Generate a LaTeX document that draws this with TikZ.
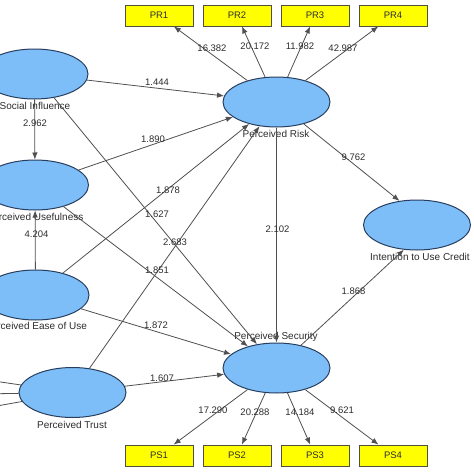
\documentclass[tikz,border=0pt]{standalone}
\usepackage{fontspec}
\setmainfont{Liberation Sans}
\usetikzlibrary{shapes.geometric,arrows.meta}
\definecolor{lv}{RGB}{125,190,248}
\definecolor{lvb}{RGB}{40,62,95}
\definecolor{ind}{RGB}{255,255,0}
\definecolor{indb}{RGB}{80,80,60}
\definecolor{ln}{RGB}{80,80,80}
\definecolor{tx}{RGB}{45,45,45}
\begin{document}
\begin{tikzpicture}[x=1pt,y=-1pt,
 lvn/.style={ellipse, draw=lvb, fill=lv, line width=1pt, minimum width=107pt, minimum height=50pt, inner sep=0pt},
 indn/.style={rectangle, draw=indb, fill=ind, line width=0.9pt, minimum width=68pt, minimum height=21pt, inner sep=0pt, font=\fontsize{9.5}{11}\selectfont, text=tx},
 arr/.style={draw=ln, line width=0.8pt, -{Latex[length=7pt,width=5.5pt]}},
 pl/.style={draw=ln, line width=0.8pt},
 lbl/.style={font=\fontsize{9.5}{11}\selectfont, text=tx, inner sep=0pt},
 nm/.style={font=\fontsize{10}{12}\selectfont, text=tx, inner sep=0pt}]
\fill[white] (0,0) rectangle (474,474);
\useasboundingbox (0,0) rectangle (474,474);
% latent variables
\node[lvn] (si) at (34.5,74) {};
\node[lvn] (pu) at (35,185) {};
\node[lvn] (pe) at (35.5,295) {};
\node[lvn] (pt) at (72.5,392.5) {};
\node[lvn] (pr) at (276.5,102) {};
\node[lvn] (ps) at (276.5,368) {};
\node[lvn] (it) at (417,225) {};
% indicators
\node[indn] (pr1) at (159,15.5) {PR1};
\node[indn] (pr2) at (237,15.5) {PR2};
\node[indn] (pr3) at (315,15.5) {PR3};
\node[indn] (pr4) at (393,15.5) {PR4};
\node[indn] (ps1) at (159,455.5) {PS1};
\node[indn] (ps2) at (237,455.5) {PS2};
\node[indn] (ps3) at (315,455.5) {PS3};
\node[indn] (ps4) at (393,455.5) {PS4};
\coordinate (t1) at (-20,379);
\coordinate (t2) at (-20,394);
\coordinate (t3) at (-20,409);
% names
\node[nm] (sil) at (35,106) {Social Influence};
\node[nm] (pul) at (35,217) {Perceived Usefulness};
\node[nm] (pel) at (36,326) {Perceived Ease of Use};
\node[nm] (ptl) at (72,425) {Perceived Trust};
\node[nm] (prl) at (276,134) {Perceived Risk};
\node[nm] (psl) at (276,337) {Perceived Security};
\node[nm, anchor=west] (itl) at (370,257) {Intention to Use Credit};
% structural paths
\draw[arr] (si) -- (pr);
\draw[arr] (si) -- (pu);
\draw[arr] (si) -- (ps);
\draw[arr] (pu) -- (pr);
\draw[arr] (pu) -- (ps);
\draw[arr] (pe) -- (pu);
\draw[arr] (pe) -- (pr);
\draw[arr] (pe) -- (ps);
\draw[arr] (pt) -- (pr);
\draw[arr] (pt) -- (ps);
\draw[arr] (pr) -- (ps);
\draw[arr] (pr) -- (it.126);
\draw[arr] (ps) -- (it.242);
% measurement paths
\draw[arr] (pr) -- (pr1);
\draw[arr] (pr) -- (pr2);
\draw[arr] (pr) -- (pr3);
\draw[arr] (pr) -- (pr4);
\draw[arr] (ps) -- (ps1);
\draw[arr] (ps) -- (ps2);
\draw[arr] (ps) -- (ps3);
\draw[arr] (ps) -- (ps4);
\draw[pl] (pt) -- (t1);
\draw[pl] (pt) -- (t2);
\draw[pl] (pt) -- (t3);
% path values
\node[lbl] (v1) at (157,82) {1.444};
\node[lbl] (v2) at (35,123) {2.962};
\node[lbl] (v3) at (153,139) {1.890};
\node[lbl] (v4) at (168,190) {1.878};
\node[lbl] (v5) at (157,214) {1.627};
\node[lbl] (v6) at (175,242) {2.683};
\node[lbl] (v7) at (157,270) {1.851};
\node[lbl] (v8) at (36.5,234) {4.204};
\node[lbl] (v9) at (156,325) {1.872};
\node[lbl] (v10) at (162,378) {1.607};
\node[lbl] (v11) at (277.5,229) {2.102};
\node[lbl] (v12) at (353.5,157) {9.762};
\node[lbl] (v13) at (353.5,291) {1.868};
\node[lbl] (v14) at (212,48) {16.382};
\node[lbl] (v15) at (255,46) {20.172};
\node[lbl] (v16) at (300,46) {11.982};
\node[lbl] (v17) at (343,48) {42.987};
\node[lbl] (v18) at (213,410) {17.290};
\node[lbl] (v19) at (255,412) {20.288};
\node[lbl] (v20) at (300,412) {14.184};
\node[lbl] (v21) at (342,410) {9.621};
\end{tikzpicture}
\end{document}
